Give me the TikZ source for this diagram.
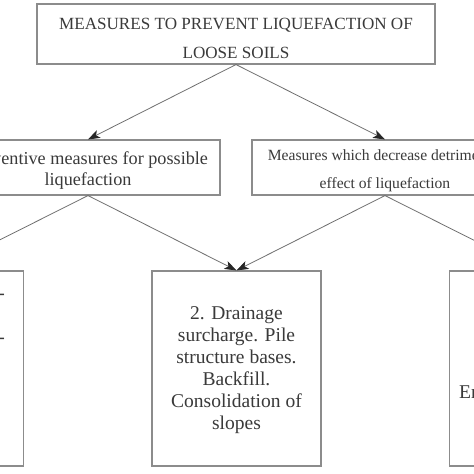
\documentclass[tikz,border=0pt]{standalone}
\usepackage{fontspec}
\setmainfont{Liberation Serif}
\usetikzlibrary{arrows.meta}
\definecolor{boxGray}{HTML}{8C8C8C}
\definecolor{lineGray}{HTML}{707070}
\definecolor{textGray}{HTML}{3A3A3A}
\newcommand{\lowerBy}[2]{\raisebox{0pt}[\dimexpr\height+#1\relax]{#2}}

\begin{document}
\begin{tikzpicture}[x=1pt,y=-1pt,
    measureBox/.style={draw=boxGray,line width=1.1pt,align=center,text=textGray,inner sep=0pt},
    link/.style={lineGray,line width=0.8pt,-{Stealth[length=12pt,width=8.5pt,inset=3pt,color=black!85]}}]
    \useasboundingbox (0,0) rectangle (474,474);
    \clip (0,0) rectangle (474,474);
    \fill[white] (0,0) rectangle (474,474);

    \node[measureBox,minimum width=398,minimum height=60,font=\fontsize{17.1}{29}\selectfont] (topNode) at (236,34) {\lowerBy{8pt}{MEASURES TO PREVENT LIQUEFACTION OF}\\LOOSE SOILS};

    \node[measureBox,minimum width=264,minimum height=55,font=\fontsize{18.2}{21}\selectfont] (preventiveNode) at (88,167.5) {\lowerBy{6pt}{Preventive measures for possible}\\liquefaction};
    \node[measureBox,minimum width=266,minimum height=55,font=\fontsize{15.6}{28}\selectfont] (decreaseNode) at (385,167.5) {\lowerBy{6pt}{Measures which decrease detrimental}\\effect of liquefaction};

    \node[measureBox,minimum width=169,minimum height=195] (leftNode) at (-61,368.5) {};
    \node[measureBox,minimum width=169,minimum height=195,font=\fontsize{19.5}{22}\selectfont] (drainageNode) at (236.5,368.5) {\lowerBy{3pt}{2. Drainage}\\surcharge. Pile\\structure bases.\\Backfill.\\Consolidation of\\slopes};
    \node[measureBox,minimum width=169,minimum height=195] (rightNode) at (534,368.5) {};

    % what is left of the cut-off texts
    \node[text=textGray,inner sep=0pt,anchor=east,font=\fontsize{19.5}{22}\selectfont] (leftDashA) at (5,297) {-};
    \node[text=textGray,inner sep=0pt,anchor=east,font=\fontsize{19.5}{22}\selectfont] (leftDashB) at (5,341) {-};
    \node[text=textGray,inner sep=0pt,anchor=west,font=\fontsize{19.5}{22}\selectfont] (rightWord) at (459,392) {En};

    \draw[link] (topNode.south) -- (preventiveNode.north);
    \draw[link] (topNode.south) -- (decreaseNode.north);

    \draw[link] (preventiveNode.south) -- (leftNode.north);
    \draw[link] (preventiveNode.south) -- (drainageNode.north);
    \draw[link] (decreaseNode.south) -- (drainageNode.north);
    \draw[link] (decreaseNode.south) -- (rightNode.north);

\end{tikzpicture}
\end{document}
